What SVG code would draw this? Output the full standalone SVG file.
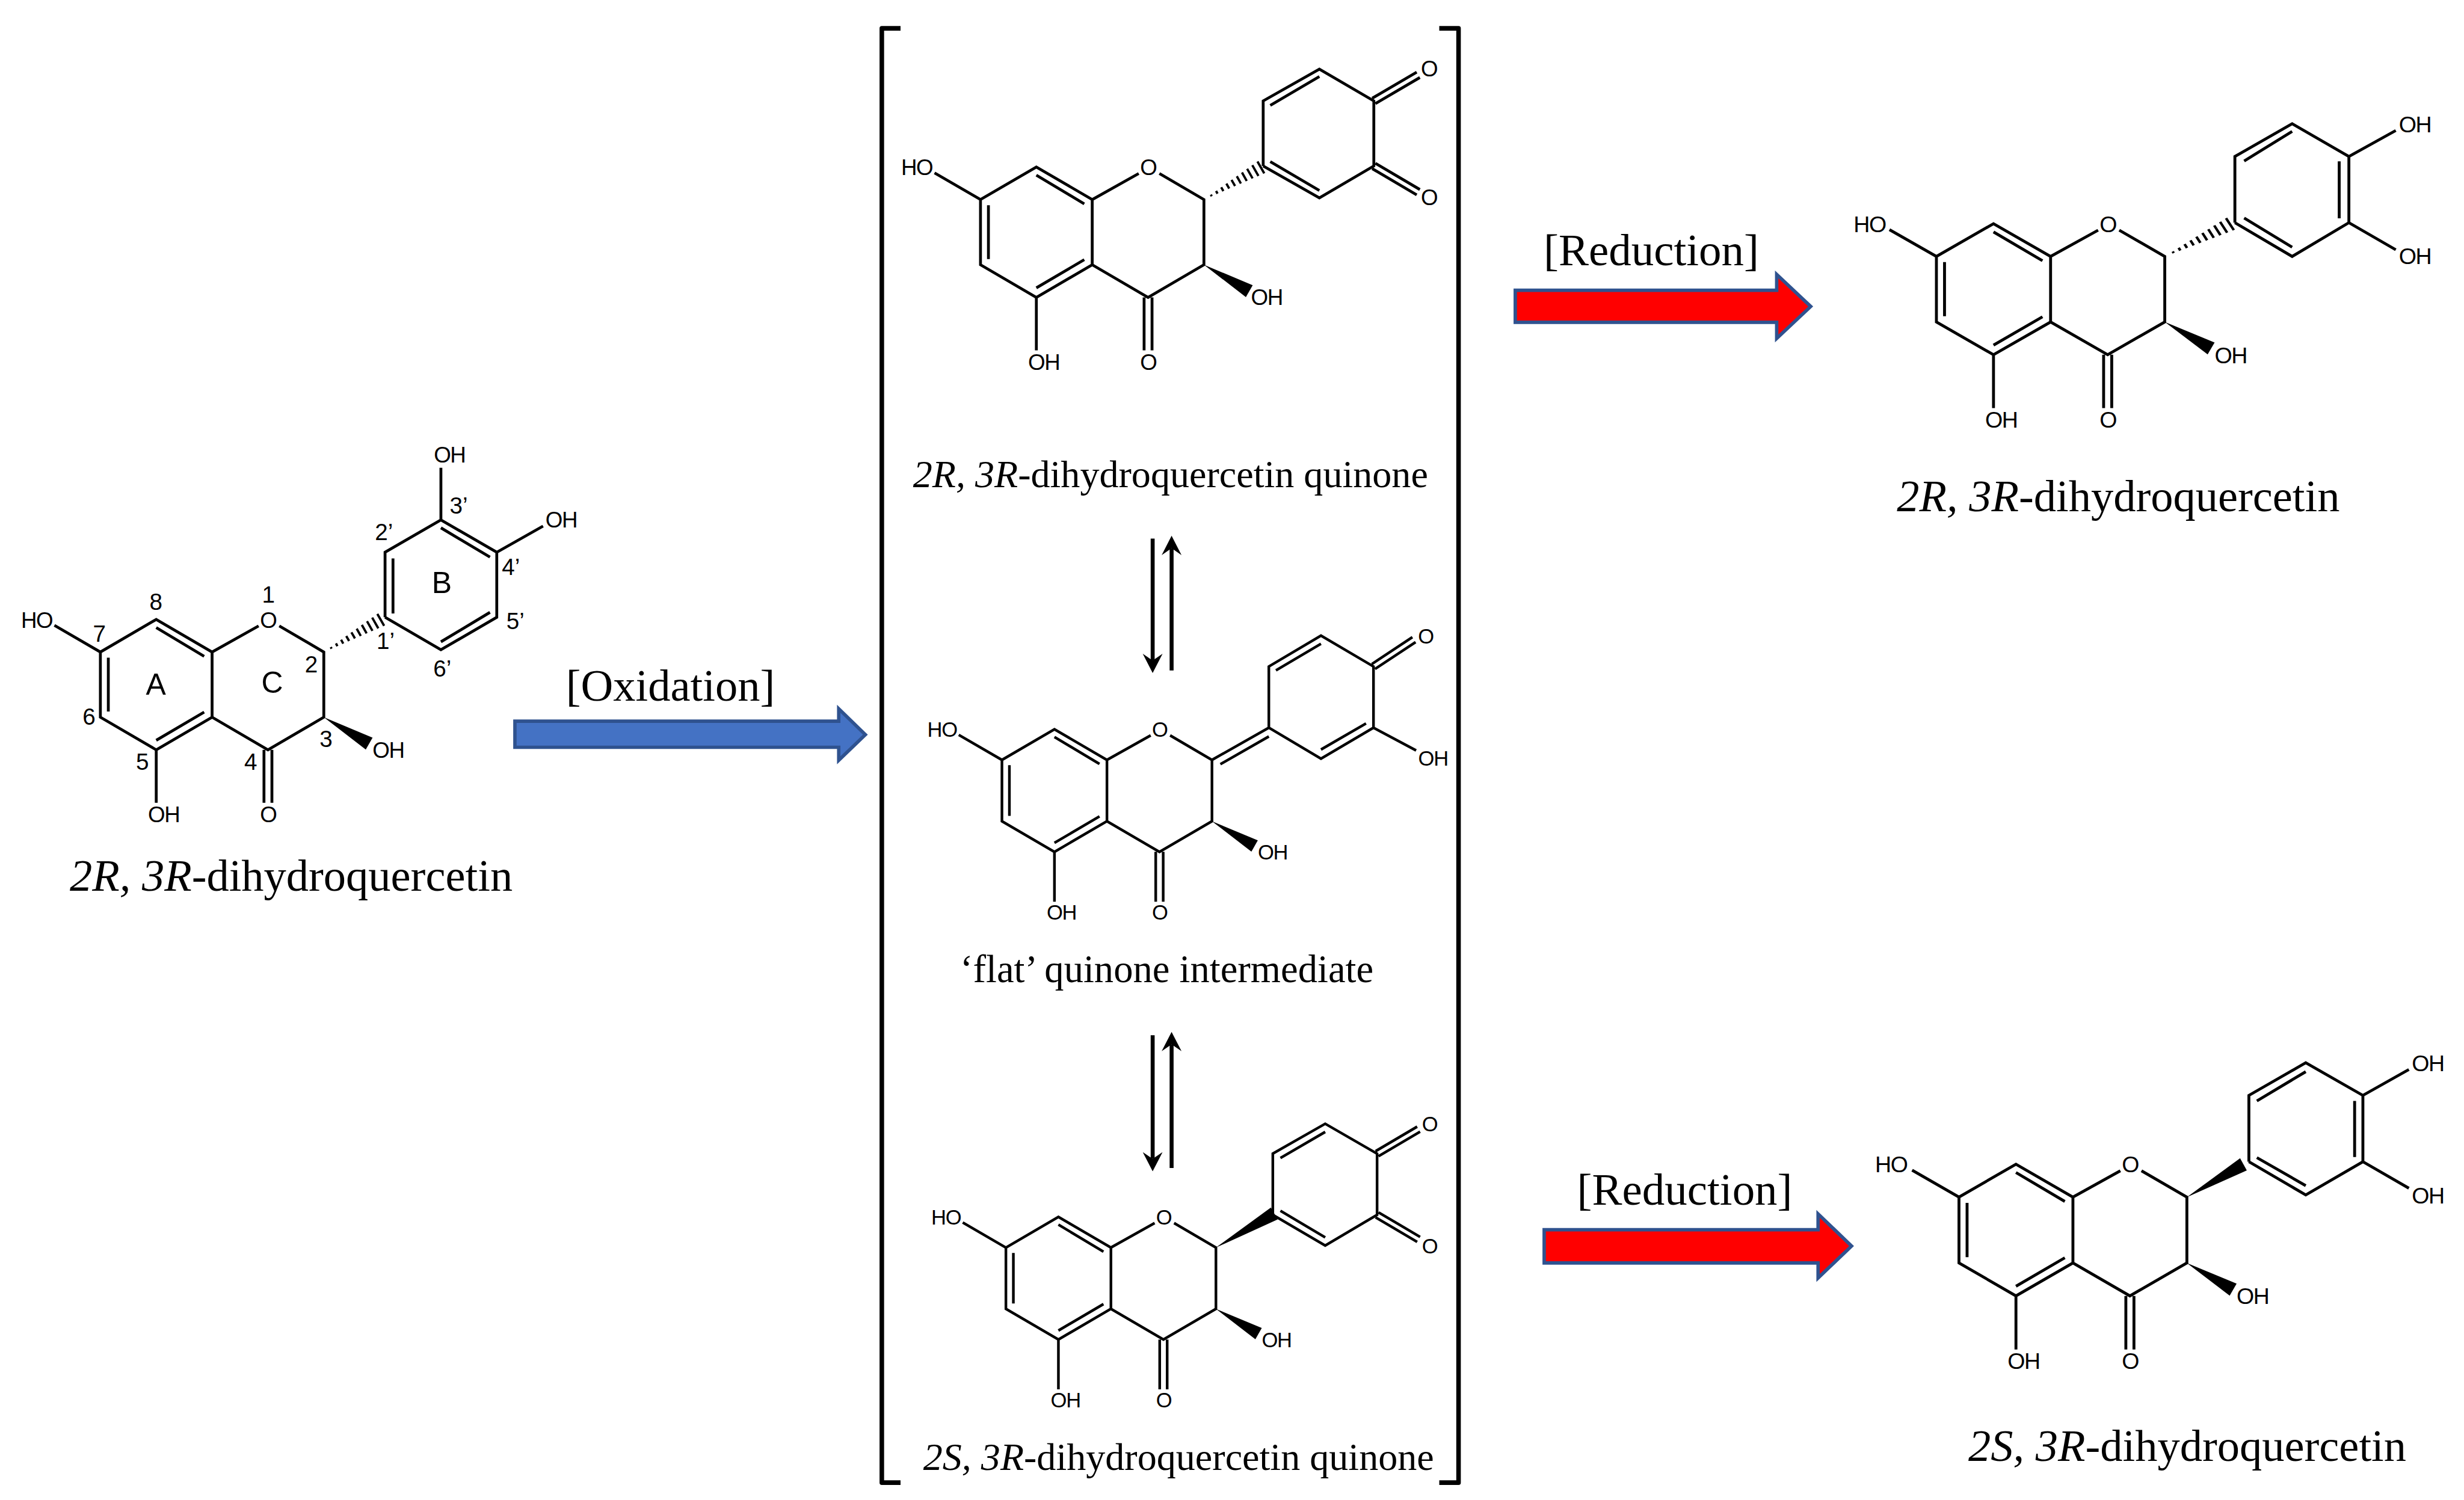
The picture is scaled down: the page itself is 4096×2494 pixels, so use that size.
<svg xmlns="http://www.w3.org/2000/svg" width="4096" height="2494" viewBox="0 0 4096 2494">
<style>
.b{fill:none;stroke:#000;stroke-width:5}
.h{fill:none;stroke:#000;stroke-width:4}
.w{fill:#000;stroke:none}
.a{font-family:"Liberation Sans",Arial,sans-serif;font-size:39px;letter-spacing:-1.5px;fill:#000}
.m{text-anchor:middle}
.n{font-family:"Liberation Sans",Arial,sans-serif;font-size:41px;fill:#000;text-anchor:middle}
.r{font-family:"Liberation Sans",Arial,sans-serif;font-size:53px;fill:#000;text-anchor:middle}
.c{font-family:"Liberation Serif","Times New Roman",serif;fill:#000}
.s79{font-size:79px}.s78{font-size:79.5px}.s68{font-size:68px}.s67{font-size:68.5px}
.i{font-style:italic}
.k{fill:none;stroke:#000;stroke-width:8;stroke-linejoin:round}
.e{stroke:#000;stroke-width:7;fill:none}
.big{stroke:#2F528F;stroke-width:6;stroke-linejoin:miter}
</style>
<defs>
<path id="core" class="b" d="M-197,0L-98.5,-57.5L0,0V115L98.5,172.5L197,115V0L118.5,-46M82,-46L0,0M-197,0V115L-98.5,172.5L0,115M-183,10V105M-98.5,-43L-14,7.6M-98.5,155.7L-14,106M91.5,172.5V266M105.5,172.5V266M-98.5,172.5V266M-197,0L-278,-47"/>
<polygon id="wedge3" class="w" points="197,115 283,151 271,172"/>
<path id="hash" class="h" d="M12.2,-8.7L13.8,-5.9M21.4,-15.2L24,-10.4M30.5,-21.7L34.3,-14.9M39.6,-28.2L44.6,-19.4M48.7,-34.7L54.9,-23.9M58,-41.2L65.2,-28.4M67.1,-47.8L75.5,-32.8M76.2,-54.3L85.8,-37.3M85.3,-60.7L96.1,-41.7M94.4,-67.2L106.4,-46.2"/>
<marker id="ah" markerUnits="userSpaceOnUse" markerWidth="40" markerHeight="40" refX="12" refY="20" orient="auto">
<path d="M0,2.5L34,20L0,37.5L12,20Z" fill="#000"/>
</marker>
</defs>
<g transform="scale(0.94269)">
<rect x="0" y="0" width="4345" height="2646" fill="#fff"/>

<g id="connectors">
<path id="arrow-oxidation" class="big" fill="#4472C4" d="M908,1272H1479V1250L1526,1295.7L1479,1341V1318H908Z"/>
<path id="arrow-reduction-1" class="big" fill="#FF0000" d="M2672,512H3133V484L3193,540.6L3133,597V568.5H2672Z"/>
<path id="arrow-reduction-2" class="big" fill="#FF0000" d="M2723,2169H3206V2141L3265,2197.7L3206,2254V2227.6H2723Z"/>
<path class="e" d="M2032.6,950V1165" marker-end="url(#ah)"/>
<path class="e" d="M2066,1182.4V967" marker-end="url(#ah)"/>
<path class="e" d="M2032.6,1826V2044" marker-end="url(#ah)"/>
<path class="e" d="M2066,2060V1842" marker-end="url(#ah)"/>
</g>

<g id="brackets">
<path class="k" d="M1588,50H1555V2615H1588"/>
<path class="k" d="M2538,50H2572V2615H2538"/>
</g>

<g id="label-oxidation"><text class="c s79" x="998" y="1236">[Oxidation]</text></g>
<g id="label-reduction-1"><text class="c s78" x="2722" y="468">[Reduction]</text></g>
<g id="label-reduction-2"><text class="c s78" x="2781" y="2125">[Reduction]</text></g>

<g id="mol-2R3R-start">
<g transform="translate(374,1150)">
<use href="#core"/>
<use href="#wedge3"/>
<use href="#hash" transform="translate(197,0)"/>
<path class="b" d="M305,-61.3V-176L403.5,-233L502,-176V-61.3L403.5,-4L305,-61.3M319,-165V-68M403.5,-219L490,-167.5M490,-70L403.5,-18M403.5,-233V-325M502,-176L583.6,-222"/>
<text class="a" x="-337" y="-43">HO</text>
<text class="a m" x="99" y="-43">O</text>
<text class="a" x="-113" y="300">OH</text>
<text class="a m" x="99" y="300">O</text>
<text class="a" x="283" y="187">OH</text>
<text class="a" x="391" y="-334">OH</text>
<text class="a" x="588" y="-220">OH</text>
<text class="n" x="99.5" y="-87">1</text>
<text class="n" x="-99" y="-74">8</text>
<text class="n" x="-198.6" y="-18">7</text>
<text class="n" x="-217" y="128">6</text>
<text class="n" x="-123" y="208">5</text>
<text class="n" x="68" y="208">4</text>
<text class="n" x="201" y="167">3</text>
<text class="n" x="175" y="36">2</text>
<text class="n" x="306" y="-5">1’</text>
<text class="n" x="303" y="-197">2’</text>
<text class="n" x="435" y="-244">3’</text>
<text class="n" x="527" y="-136">4’</text>
<text class="n" x="535" y="-40">5’</text>
<text class="n" x="406" y="43">6’</text>
<text class="r" x="-99" y="75">A</text>
<text class="r" x="106" y="72">C</text>
<text class="r" x="405" y="-104">B</text>
</g>
<text class="c s79" x="123" y="1571"><tspan class="i">2R, 3R</tspan>-dihydroquercetin</text>
</g>

<g id="mol-2R3R-quinone">
<g transform="translate(1926,352)">
<use href="#core"/>
<use href="#wedge3"/>
<use href="#hash" transform="translate(197,0)"/>
<path class="b" d="M301.5,-59.3V-174L400.6,-230L496.6,-174V-59.3L400.6,-3L301.5,-59.3M314,-67L400.6,-16M314,-166L400.6,-217M493.8,-178.7L572.2,-224.7M499.4,-169.3L577.8,-215.3M499.4,-64L577.8,-17.7M493.8,-54.6L572.2,-8.3"/>
<text class="a" x="-337" y="-43">HO</text>
<text class="a m" x="99" y="-43">O</text>
<text class="a" x="-113" y="300">OH</text>
<text class="a m" x="99" y="300">O</text>
<text class="a" x="280" y="186">OH</text>
<text class="a m" x="594" y="-217">O</text>
<text class="a m" x="594" y="10">O</text>
</g>
<text class="c s68" x="1610" y="859"><tspan class="i">2R, 3R</tspan>-dihydroquercetin quinone</text>
</g>

<g id="mol-flat-quinone">
<g transform="translate(1952,1340.3) scale(0.94)">
<use href="#core"/>
<use href="#wedge3"/>
<path class="b" d="M197,0L303.7,-60.4V-175.3L401.5,-233.3L500,-175.3V-60.4L401.5,-2.4L303.7,-60.4M212.8,8L303.7,-44M401.5,-19.5L486,-68.4M317,-168L401.5,-218M497,-180L573,-230.4M503,-170.7L579,-221M500,-60.4L580,-17.7"/>
<text class="a" x="-337" y="-43">HO</text>
<text class="a m" x="99" y="-43">O</text>
<text class="a" x="-113" y="300">OH</text>
<text class="a m" x="99" y="300">O</text>
<text class="a" x="283" y="187">OH</text>
<text class="a m" x="598" y="-218">O</text>
<text class="a" x="584" y="11">OH</text>
</g>
<text class="c s67" x="1693" y="1732">‘flat’ quinone intermediate</text>
</g>

<g id="mol-2S3R-quinone">
<g transform="translate(1959,2200.4) scale(0.94)">
<use href="#core"/>
<use href="#wedge3"/>
<polygon class="w" points="197,0 300,-75 312.8,-52.8"/>
<path class="b" d="M303.7,-61.4V-176.2L402,-232.3L499.3,-176.2V-61.4L402,-3.9L303.7,-61.4M318,-69L402,-19M318,-168L402,-217M496.5,-180.9L574.5,-226.9M502.1,-171.5L580,-217.5M502.1,-66L580,-20M496.5,-56.7L574.5,-10.7"/>
<text class="a" x="-337" y="-43">HO</text>
<text class="a m" x="99" y="-43">O</text>
<text class="a" x="-113" y="300">OH</text>
<text class="a m" x="99" y="300">O</text>
<text class="a" x="283" y="187">OH</text>
<text class="a m" x="598" y="-218">O</text>
<text class="a m" x="598" y="11">O</text>
</g>
<text class="c s68" x="1628" y="2593"><tspan class="i">2S, 3R</tspan>-dihydroquercetin quinone</text>
</g>

<g id="mol-2R3R-product">
<g transform="translate(3616,452.3) scale(1.022,1.005)">
<use href="#core"/>
<use href="#wedge3"/>
<use href="#hash" transform="translate(197,0) scale(1.12,1)"/>
<path class="b" d="M318,-59.3V-175.4L416.8,-233L514.7,-175.4V-59.3L416.8,0L318,-59.3M334,-67.5L416.8,-16.2M334,-167.5L416.8,-219.5M498,-167V-67M514.7,-175.4L595.6,-221M514.7,-59.3L595.6,-11.8"/>
<text class="a" x="-340" y="-43">HO</text>
<text class="a m" x="99" y="-43">O</text>
<text class="a" x="-113" y="300">OH</text>
<text class="a m" x="99" y="300">O</text>
<text class="a" x="283" y="187">OH</text>
<text class="a" x="601" y="-218">OH</text>
<text class="a" x="601" y="13">OH</text>
</g>
<text class="c s79" x="3345" y="902"><tspan class="i">2R, 3R</tspan>-dihydroquercetin</text>
</g>

<g id="mol-2S3R-product">
<g transform="translate(3655.4,2111.4) scale(1.02,1.01)">
<use href="#core"/>
<use href="#wedge3"/>
<polygon class="w" points="197,0 289,-68 300.6,-46.5"/>
<path class="b" d="M304.2,-61.8V-177.6L402.5,-234.6L501.3,-177.6V-61.8L402.5,-3.8L304.2,-61.8M318,-69L402.5,-20M318,-168L402.5,-219M487,-168V-70M501.3,-177.6L580.8,-222.8M501.3,-61.8L580.8,-15.5"/>
<text class="a" x="-342" y="-43">HO</text>
<text class="a m" x="99" y="-43">O</text>
<text class="a" x="-113" y="300">OH</text>
<text class="a m" x="99" y="300">O</text>
<text class="a" x="283" y="187">OH</text>
<text class="a" x="586" y="-220">OH</text>
<text class="a" x="586" y="11">OH</text>
</g>
<text class="c s79" x="3471" y="2577"><tspan class="i">2S, 3R</tspan>-dihydroquercetin</text>
</g>
</g>
</svg>
